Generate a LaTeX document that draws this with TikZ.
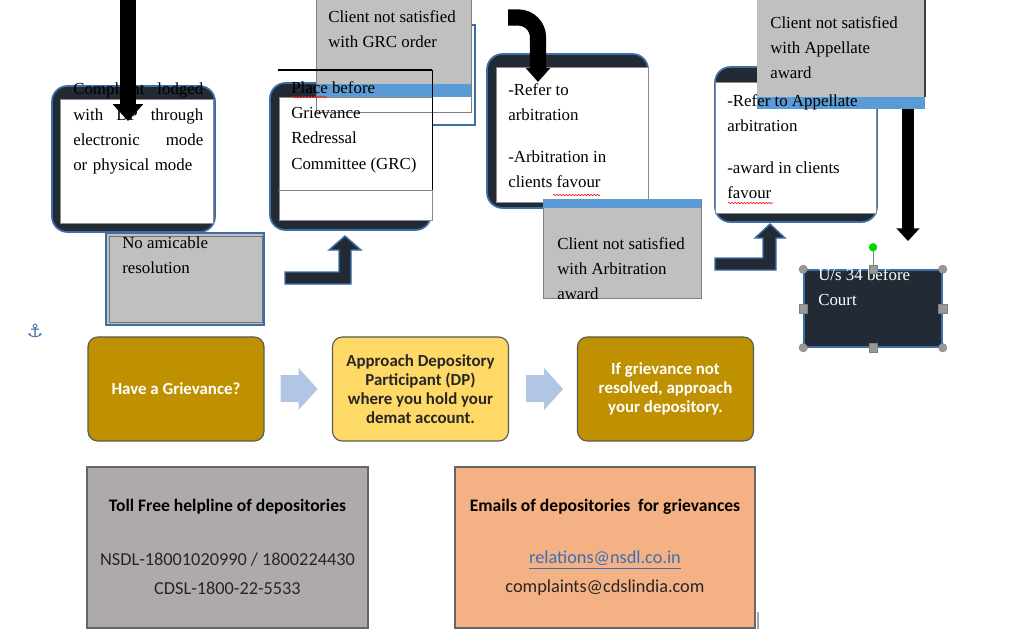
\documentclass[tikz,border=0pt]{standalone}
\usepackage{fontspec}
\setmainfont{Liberation Serif}
\setsansfont{Carlito}
\newfontfamily\symbolfont{DejaVu Sans}
\usetikzlibrary{arrows.meta,calc,positioning,decorations.pathmorphing}
\definecolor{navy}{HTML}{222A35}
\definecolor{edgeblue}{HTML}{3C6EA8}
\definecolor{bandblue}{HTML}{5B9BD5}
\definecolor{boxgray}{HTML}{C0C0C0}
\definecolor{gold}{HTML}{BF9000}
\definecolor{lightgold}{HTML}{FFD966}
\definecolor{arrowblue}{HTML}{B0C6E4}
\definecolor{tollgray}{HTML}{AEAAAA}
\definecolor{peach}{HTML}{F4B183}
\definecolor{linkblue}{HTML}{3A6FB8}

\begin{document}
\begin{tikzpicture}[x=0.025cm,y=-0.025cm,
  every node/.style={inner sep=0pt},
  dkbox/.style={fill=navy,draw=edgeblue,line width=1.2pt,rounded corners=11pt},
  wbox/.style={fill=white,draw=black!45,line width=0.6pt},
  gbox/.style={fill=boxgray,draw=black!50,line width=0.6pt},
  serif/.style={anchor=north west,align=left,font=\fontsize{12}{18}\selectfont},
  navyarr/.style={fill=navy,draw=edgeblue,line width=1pt},
  wavy/.style={red,line width=0.4pt,decorate,decoration={snake,amplitude=0.5pt,segment length=2.2pt}},
  handle/.style={fill=gray!80,draw=gray,line width=0.3pt},
  stepbox/.style={rounded corners=7pt,draw=black!65,line width=0.8pt,minimum width=4.4cm,minimum height=2.6cm,align=center,font=\sffamily\bfseries\fontsize{12}{13.5}\selectfont},
  infobox/.style={draw=black!60,line width=0.8pt,minimum height=4.025cm},
  infotext/.style={font=\sffamily\fontsize{13}{15}\selectfont,text=black!85}]
  \useasboundingbox (0,0) rectangle (1024,641);

  % --- complaint lodged with DP
  \draw[dkbox] (52,86) rectangle (215,232);
  \draw[wbox] (60,99) rectangle (213,223);
  \node[serif,text width=3.25cm] (lodged) at (73,83)
    {Complaint\hfill lodged\\with\hfill DP\hfill through\\electronic\hfill mode\\or physical mode};
  \coordinate (topin) at (128,0);
  \coordinate (lodgedin) at (128,121);
  \draw[line width=11pt,-{Triangle[width=21pt,length=12pt]}] (topin) -- (lodgedin);

  % --- no amicable resolution
  \draw[fill=boxgray,draw=edgeblue,line width=2pt] (106,233) rectangle (264,325);
  \draw[black!55,line width=0.6pt] (109,236) rectangle (262,322);
  \node[serif] (noamic) at (122,236) {No amicable\\resolution};

  % bent arrow up to GRC
  \draw[navyarr] (285,272) -- (339,272) -- (339,250) -- (329,250) -- (345,236)
    -- (361,250) -- (351,250) -- (351,284) -- (285,284) -- cycle;

  % --- place before GRC
  \draw[edgeblue,line width=1pt] (330,25) rectangle (475,125);
  \draw[dkbox] (270,83) rectangle (431,230);
  \draw[wbox] (279,97) rectangle (432,220);
  \fill[boxgray] (316,0) rectangle (471,84);
  \fill[bandblue] (316,84) rectangle (471,97);
  \fill[white] (432,97) rectangle (471,112);
  \draw[black!50,line width=0.6pt] (316,0) -- (316,112) -- (471,112) -- (471,0);
  \node[serif] (grcorder) at (328,10) {Client not satisfied\\with GRC order};
  \draw[line width=1.5pt] (278,70) -- (432,70);
  \draw[line width=0.5pt] (432,70) -- (432,190);
  \draw[black!50,line width=0.6pt] (278,190) -- (432,190);
  \node[serif] (grc) at (291,81) {Place before\\Grievance\\Redressal\\Committee (GRC)};
  \draw[wavy] (292,97) -- (327,97);

  % --- refer to arbitration
  \draw[dkbox] (487,54) rectangle (648,208);
  \draw[wbox] (496,67) rectangle (648,202);
  \node[serif] (arb) at (508,83) {-Refer to\\arbitration\\[12pt]-Arbitration in\\clients favour};
  \draw[wavy] (553,195) -- (600,195);
  \coordinate (grcout) at (508,17.5);
  \coordinate (arbin) at (538,82);
  \draw[line width=11.5pt,rounded corners=14pt,-{Triangle[width=17pt,length=10pt]}]
    (grcout) -- (538,17.5) -- (arbin);

  % --- client not satisfied with arbitration award
  \draw[gbox] (543,199) rectangle (701,298);
  \fill[bandblue] (543,199) rectangle (701,208);
  \node[serif] (arbaward) at (557,237) {Client not satisfied\\with Arbitration\\award};

  % bent arrow up to appellate
  \draw[navyarr] (715,258) -- (763,258) -- (763,238) -- (755,238) -- (770,224)
    -- (785,238) -- (776,238) -- (776,270) -- (715,270) -- cycle;

  % --- refer to appellate arbitration
  \draw[dkbox] (715,67) rectangle (877,222);
  \draw[wbox] (715,82) rectangle (876,213);
  \fill[boxgray] (757,0) rectangle (925,97);
  \fill[bandblue] (757,97) rectangle (925,109);
  \draw[black!75,line width=0.8pt] (925,0) -- (925,97);
  \node[serif] (appaward) at (770,16) {Client not satisfied\\with Appellate\\award};
  \node[serif] (app) at (727,94) {-Refer to Appellate\\arbitration\\[12pt]-award in clients\\favour};
  \draw[wavy] (728,203) -- (773,203);

  % down to court
  \coordinate (appout) at (908,109);
  \coordinate (courtin) at (908,241);
  \draw[line width=8.5pt,-{Triangle[width=16pt,length=9pt]}] (appout) -- (courtin);

  % --- U/s 34 before court (selected)
  \node[fill=navy,draw=edgeblue,line width=1pt,minimum width=3.45cm,minimum height=1.925cm] (court) at (873,308.5) {};
  \node[serif,text=white] (courttxt) at (818,268) {U/s 34 before\\Court};
  \draw[gray,line width=0.6pt] (court.north) -- ++(0,-22) node[circle,fill=green!85!black,minimum size=6pt] (rot) {};
  \foreach \a in {north west,north east,south west,south east}
    \node[handle,circle,minimum size=6pt] at (court.\a) {};
  \foreach \a in {north,south,west,east}
    \node[handle,minimum size=6pt] at (court.\a) {};

  \node[text=edgeblue,font=\symbolfont\fontsize{13}{13}\selectfont] (anchor) at (35,331) {⚓};

  % --- grievance steps
  \node[stepbox,fill=gold,text=white] (griev) at (176,389) {Have a Grievance?};
  \node[stepbox,fill=lightgold,text=black!85] (approach) at (420.5,389)
    {Approach Depository\\Participant (DP)\\where you hold your\\demat account.};
  \node[stepbox,fill=gold,text=white] (depo) at (665.5,389)
    {If grievance not\\resolved, approach\\your depository.};
  \fill[arrowblue] ($(griev.east)+(16,-14)$) -- ++(18,0) -- ++(0,-7) -- ++(19,21)
    -- ++(-19,21) -- ++(0,-8) -- ++(-18,0) -- cycle;
  \fill[arrowblue] ($(approach.east)+(17,-14)$) -- ++(18,0) -- ++(0,-7) -- ++(19,21)
    -- ++(-19,21) -- ++(0,-8) -- ++(-18,0) -- cycle;

  % --- helplines
  \node[infobox,fill=tollgray,minimum width=7.025cm] (toll) at (227.5,547.5) {};
  \node[infotext,font=\sffamily\bfseries\fontsize{12.5}{15}\selectfont,text=black] (tolltitle) at (227.5,507) {Toll Free helpline of depositories};
  \node[infotext] (nsdlno) at (227.5,560) {NSDL-18001020990 / 1800224430};
  \node[infotext] (cdslno) at (227.5,588) {CDSL-1800-22-5533};

  \node[infobox,fill=peach,minimum width=7.5cm] (mail) at (605,547.5) {};
  \node[infotext,font=\sffamily\bfseries\fontsize{12.5}{15}\selectfont,text=black] (mailtitle) at (605,507) {Emails of depositories\ \ for grievances};
  \node[infotext,text=linkblue] (nsdlmail) at (605,560) {\underline{relations@nsdl.co.in}};
  \node[infotext] (cdslmail) at (605,588) {complaints@cdslindia.com};
  \draw[gray!70,line width=1pt] (758,612) -- (758,629);
\end{tikzpicture}
\end{document}
